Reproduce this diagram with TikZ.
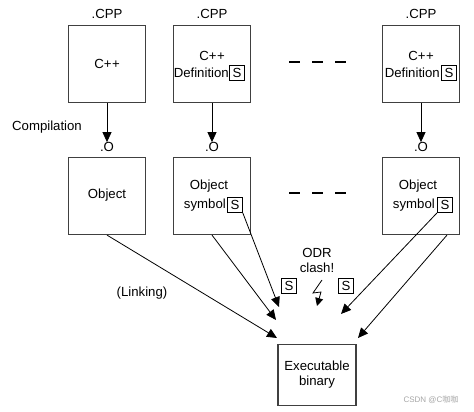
\documentclass[tikz,border=0pt]{standalone}
\usepackage{fontspec}
\setmainfont{Liberation Sans}
\newfontfamily\cjkfont{Noto Sans CJK SC}
\usetikzlibrary{arrows.meta}
\begin{document}
\begin{tikzpicture}[x=1pt,y=-1pt,
  font=\fontsize{13.2}{15}\selectfont,
  filebox/.style={draw=black!75, line width=1.2pt, minimum width=77pt, minimum height=77pt, inner sep=0pt},
  sbox/.style={draw, line width=0.8pt, inner sep=1.5pt, minimum width=15pt, minimum height=15pt},
  lbl/.style={inner sep=0pt, align=center},
  arr/.style={-{Triangle[length=10pt,width=9pt]}, line width=0.8pt},
  dashrow/.style={line width=2pt, dash pattern=on 11pt off 12pt}]
\useasboundingbox (0,0) rectangle (474,412);
% row 1
\node[filebox] (c1) at (107,64) {};
\node[filebox] (c2) at (212,64) {};
\node[filebox] (c3) at (421,64) {};
\node[lbl] (t1) at (107,14) {.CPP};
\node[lbl] (t2) at (212,14) {.CPP};
\node[lbl] (t3) at (421,14) {.CPP};
\node[lbl] (c1t) at (107,64) {C+\kern0.5pt+};
\node[lbl] (c2a) at (212,56) {C+\kern0.5pt+};
\node[lbl,anchor=east] (c2b) at (229,73) {Definition};
\node[sbox,anchor=west] (s2a) at (229,73) {S};
\node[lbl] (c3a) at (421,56) {C+\kern0.5pt+};
\node[lbl,anchor=east] (c3b) at (440,73) {Definition};
\node[sbox,anchor=west] (s3a) at (441,73) {S};
% row 2
\node[filebox] (o1) at (107,196) {};
\node[filebox] (o2) at (212,196) {};
\node[filebox] (o3) at (421,196) {};
\node[lbl] (p1) at (107,147) {.O};
\node[lbl] (p2) at (212,147) {.O};
\node[lbl] (p3) at (421,147) {.O};
\node[lbl] (o1t) at (107,195) {Object};
\node[lbl] (o2a) at (209,186) {Object};
\node[lbl,anchor=east] (o2b) at (226,205) {symbol};
\node[sbox,anchor=west] (s2b) at (227,205) {S};
\node[lbl] (o3a) at (418,186) {Object};
\node[lbl,anchor=east] (o3b) at (435,205) {symbol};
\node[sbox,anchor=west] (s3b) at (437,205) {S};
% dashes
\coordinate (d1a) at (289,62); \coordinate (d1b) at (346,62);
\coordinate (d2a) at (289,193); \coordinate (d2b) at (346,193);
\draw[dashrow] (d1a) -- (d1b);
\draw[dashrow] (d2a) -- (d2b);
% compilation arrows
\draw[arr] (c1.south) -- (p1.north);
\draw[arr] (c2.south) -- (p2.north);
\draw[arr] (c3.south) -- (p3.north);
\node[lbl] (comp) at (47,127) {Compilation};
% executable
\node[draw=black!75, line width=1.2pt, minimum width=78pt, minimum height=61pt, align=center, inner sep=0pt] (exe) at (317,375) {Executable\\binary};
% linking arrows
\coordinate (e1) at (277,338);
\coordinate (e2) at (276,320);
\coordinate (e3) at (279,307);
\coordinate (e4) at (341,314);
\coordinate (e5) at (358,338);
\draw[arr] (o1.south) -- (e1);
\draw[arr] (o2.south) -- (e2);
\draw[arr] (s2b.south east) -- (e3);
\draw[arr] (s3b.south west) -- (e4);
\draw[arr] ([xshift=26pt]o3.south) -- (e5);
\node[lbl] (link) at (142,293) {(Linking)};
% ODR clash
\node[lbl] (odr) at (317,260) {ODR\\clash!};
\node[sbox] (sa) at (289,286) {S};
\node[sbox] (sb) at (346,286) {S};
\coordinate (z0) at (322,280);
\coordinate (z1) at (313,293);
\coordinate (z2) at (321,292);
\coordinate (z3) at (317,306);
\draw[line width=0.8pt, -{Triangle[length=8pt,width=8pt]}] (z0) -- (z1) -- (z2) -- (z3);
% watermark
\node[lbl, text=black!35, font=\fontsize{8}{9}\selectfont] (wm) at (431,400) {CSDN @C{\cjkfont 咖咖}};
\end{tikzpicture}
\end{document}
